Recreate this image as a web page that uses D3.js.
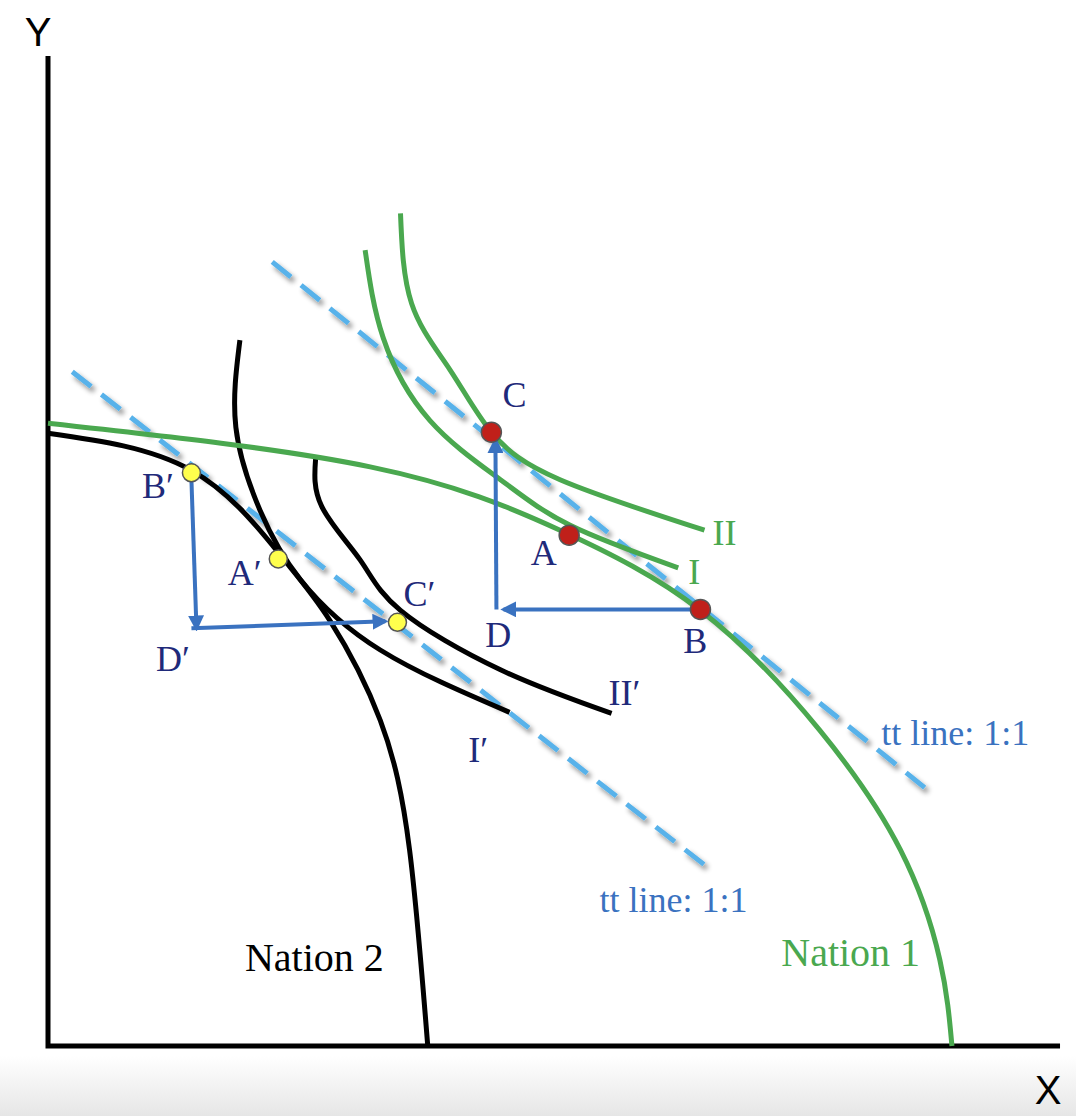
<!DOCTYPE html>
<html><head><meta charset="utf-8">
<script src="https://cdn.jsdelivr.net/npm/d3@7"></script>
<style>body{margin:0;background:#fff}</style>
</head><body>
<div id="graph_box"></div>
<script>
// curves, in chart units (x 0..100, y 0..100)
const nation1 = [[0,62.9],[31.9,58.5],[50.7,52.1],[64.6,44.0],[76.4,31.9],[84.4,19.8],[88.3,8.7],[89.5,0]];
const nation2 = [[0,61.9],[14.1,58.2],[23.0,49.6],[27.9,43.0],[32.9,32.9],[35.8,19.8],[37.6,0]];
const curveI = [[31.4,80.4],[33.2,71.5],[37.8,63.2],[44.8,57.2],[51.7,52.6],[62.4,48.3]];
const curveII = [[34.9,84.1],[36.0,75.0],[39.8,68.3],[43.9,62.0],[50.7,57.2],[65.0,52.1]];
const curveI2 = [[19.0,71.3],[18.6,62.5],[21.0,54.1],[25.0,47.1],[32.9,40.0],[45.7,33.7]];
const curveII2 = [[26.5,59.4],[27.1,54.5],[30.9,49.1],[34.9,44.0],[44.8,38.0],[55.8,33.6]];
const ttLines = [[[22.2,79.2],[86.8,26.1]], [[2.4,68.1],[65.0,18.3]]];
const redPts = [[43.9,62.0],[51.6,51.6],[64.6,44.1]];
const yellowPts = [[14.2,57.9],[22.8,49.2],[34.6,42.8]];
const arrows = [[[64.6,44.1],[45.1,44.1]], [[44.4,44.1],[44.3,61.2]], [[14.2,57.2],[14.7,42.2]], [[14.2,42.2],[33.4,42.9]]];
const labels = [
  {t:"C",x:45.0,y:64.5,c:"#1f2a7a"},{t:"A",x:47.8,y:48.6,c:"#1f2a7a"},{t:"B",x:62.9,y:39.7,c:"#1f2a7a"},
  {t:"D",x:43.3,y:40.3,c:"#1f2a7a"},{t:"B\u2032",x:9.3,y:55.4,c:"#1f2a7a"},{t:"A\u2032",x:17.8,y:46.6,c:"#1f2a7a"},
  {t:"C\u2032",x:35.2,y:44.4,c:"#1f2a7a"},{t:"D\u2032",x:10.7,y:37.9,c:"#1f2a7a"},
  {t:"II",x:65.8,y:50.6,c:"#4aa84f"},{t:"I",x:63.4,y:46.7,c:"#4aa84f"},
  {t:"II\u2032",x:55.5,y:34.4,c:"#1f2a7a"},{t:"I\u2032",x:41.6,y:28.7,c:"#1f2a7a"},
  {t:"tt line: 1:1",x:82.5,y:30.4,c:"#3a72c0",s:36},{t:"tt line: 1:1",x:54.6,y:13.5,c:"#3a72c0",s:36},
  {t:"Nation 2",x:19.5,y:7.6,c:"#000",s:40},{t:"Nation 1",x:72.6,y:8.1,c:"#4aa84f",s:40}
];

const W = 1076, H = 1116;
const x = d3.scaleLinear().domain([0,100]).range([48,1058]);
const y = d3.scaleLinear().domain([0,100]).range([1046,56]);
const svg = d3.select("#graph_box").append("svg").attr("width",W).attr("height",H);
const defs = svg.append("defs");
const g = defs.append("linearGradient").attr("id","fade").attr("x1",0).attr("y1",0).attr("x2",0).attr("y2",1);
g.append("stop").attr("offset","0%").attr("stop-color","#fff");
g.append("stop").attr("offset","100%").attr("stop-color","#e6e6e6");
svg.append("rect").attr("x",0).attr("y",1056).attr("width",W).attr("height",60).attr("fill","url(#fade)");
const sh = defs.append("filter").attr("id","shadow").attr("x","-10%").attr("y","-10%").attr("width","130%").attr("height","130%");
sh.append("feDropShadow").attr("dx",3).attr("dy",4).attr("stdDeviation",2.5).attr("flood-color","#000").attr("flood-opacity",0.45);
defs.append("marker").attr("id","arr").attr("viewBox","0 0 10 10").attr("refX",8).attr("refY",5)
  .attr("markerWidth",4).attr("markerHeight",4).attr("orient","auto")
  .append("path").attr("d","M0,0L10,5L0,10z").attr("fill","#3a72c0");

const line = d3.line().x(d => x(d[0])).y(d => y(d[1])).curve(d3.curveNatural);
// axes
svg.append("path").attr("d",`M${x(0)},${y(100)}V${y(0)}H${x(100.2)}`).attr("fill","none").attr("stroke","#000").attr("stroke-width",5);
svg.append("text").attr("x",38).attr("y",46).attr("font-family","Liberation Sans").attr("font-size",40).attr("text-anchor","middle").text("Y");
svg.append("text").attr("x",1048).attr("y",1104).attr("font-family","Liberation Sans").attr("font-size",40).attr("text-anchor","middle").text("X");

// tt lines
ttLines.forEach(l => svg.append("path").attr("d",line(l)).attr("stroke","#58b2ea").attr("stroke-width",5)
  .attr("stroke-dasharray","24,13").attr("fill","none").attr("filter","url(#shadow)"));

[[nation2,"#000"],[curveI2,"#000"],[curveII2,"#000"],[nation1,"#4aa84f"],[curveI,"#4aa84f"],[curveII,"#4aa84f"]]
  .forEach(([d,c]) => svg.append("path").attr("d",line(d)).attr("stroke",c).attr("stroke-width",5).attr("fill","none"));

arrows.forEach(a => svg.append("path").attr("d",d3.line().x(d=>x(d[0])).y(d=>y(d[1]))(a))
  .attr("stroke","#3a72c0").attr("stroke-width",4).attr("fill","none").attr("marker-end","url(#arr)"));

svg.selectAll(".red").data(redPts).join("circle").attr("cx",d=>x(d[0])).attr("cy",d=>y(d[1])).attr("r",10)
  .attr("fill","#c0201a").attr("stroke","#555").attr("stroke-width",1.5);
svg.selectAll(".yel").data(yellowPts).join("circle").attr("cx",d=>x(d[0])).attr("cy",d=>y(d[1])).attr("r",9)
  .attr("fill","#ffff4d").attr("stroke","#555").attr("stroke-width",1.5);

svg.selectAll(".lab").data(labels).join("text").attr("x",d=>x(d.x)).attr("y",d=>y(d.y))
  .attr("font-family","Liberation Serif").attr("font-size",d=>d.s||36).attr("fill",d=>d.c).text(d=>d.t);
</script>
</body></html>
